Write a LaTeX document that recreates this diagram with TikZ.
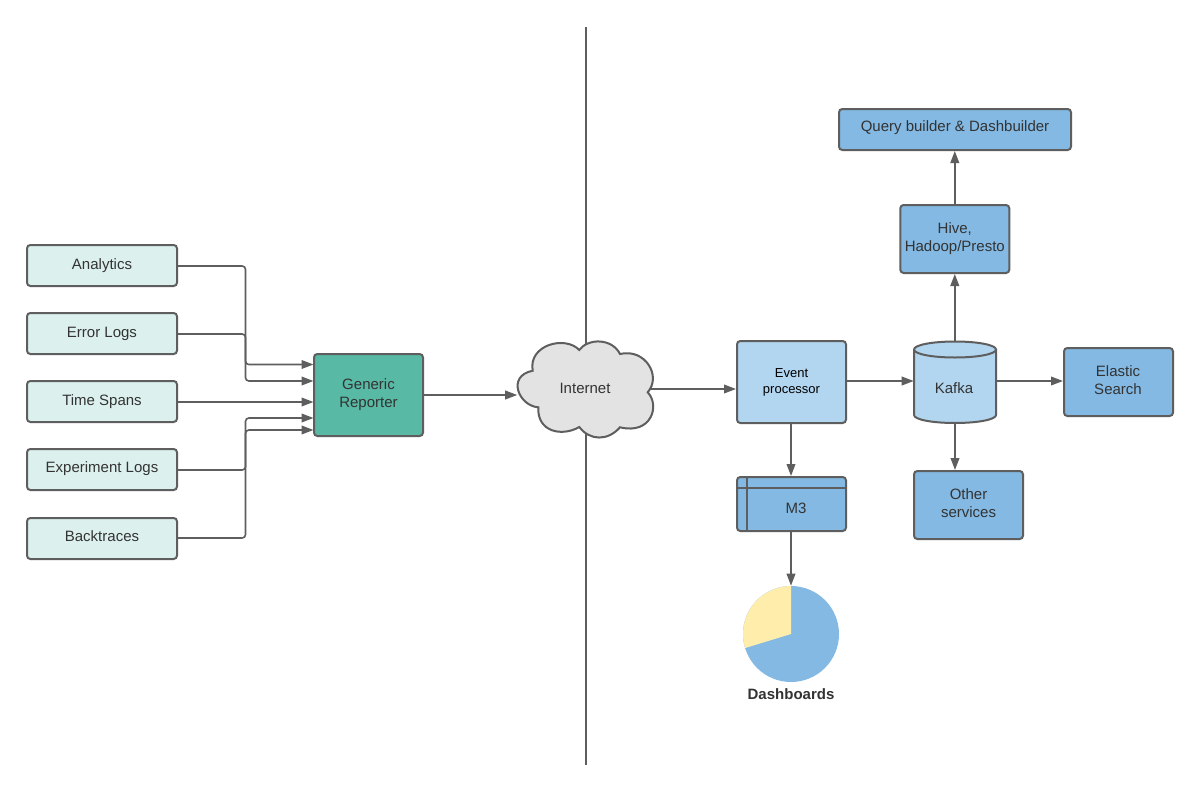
\documentclass[tikz,border=0pt]{standalone}
\usepackage{fontspec}
\setmainfont{Liberation Sans}
\usetikzlibrary{arrows.meta,calc}
\definecolor{ln}{HTML}{5E5E5E}
\definecolor{txt}{HTML}{333333}
\definecolor{mint}{HTML}{DCF1ED}
\definecolor{teal}{HTML}{58B9A5}
\definecolor{blue}{HTML}{83B9E3}
\definecolor{lblue}{HTML}{B2D5F0}
\definecolor{cloudgrey}{HTML}{E3E3E3}
\definecolor{pieyellow}{HTML}{FFEDAB}
\tikzset{
  size/.style 2 args={minimum width=#1*0.75pt,minimum height=#2*0.75pt},
  box/.style={draw=ln,line width=1.5pt,rounded corners=2.5pt,inner sep=0pt,align=center,
    text=txt,font=\fontsize{11.25}{13.5}\selectfont},
  src/.style={box,fill=mint,size={150}{41}},
  label/.style={inner sep=0pt,align=center,text=txt,font=\fontsize{11.25}{13.5}\selectfont},
  conn/.style={draw=ln,line width=1.2pt,rounded corners=2.5pt,-{Triangle[length=9pt,width=6.5pt]}},
  plain/.style={draw=ln,line width=1.2pt},
}
\begin{document}
\begin{tikzpicture}[x=0.75pt,y=-0.75pt]
\useasboundingbox[fill=white] (0,0) rectangle (1200,793);
% divider
\coordinate (divtop) at (586.1,27);
\coordinate (divbot) at (586.1,765);
\draw[plain] (divtop) -- (divbot);
% sources
\node[src] (analytics) at (102,265.5) {Analytics};
\node[src] (errors) at (102,333.5) {Error Logs};
\node[src] (spans) at (102,401.5) {Time Spans};
\node[src] (experiment) at (102,469.5) {};
\node[label] (experimentlabel) at (102,468.5) {Experiment Logs};
\node[src] (backtraces) at (102,538.5) {};
\node[label] (backtraceslabel) at (102,536.5) {Backtraces};
\node[box,fill=teal,size={109}{82}] (reporter) at (368.5,395) {Generic\\Reporter};
% cloud
\draw[draw=ln,line width=1.5pt,fill=cloudgrey]
  (538.3,407.3) .. controls (519,406) and (506,376) .. (532.7,370.7)
  .. controls (528,345) and (565,335) .. (579.3,350)
  .. controls (588,338) and (612,338) .. (620,354)
  .. controls (645,348) and (662,376) .. (647.7,392.3)
  .. controls (660,405) and (652,435) .. (620,427.3)
  .. controls (608,441) and (590,441) .. (579.3,427)
  .. controls (562,437) and (537,432) .. (538.3,407.3) -- cycle;
\node[label,size={135}{96}] (cloud) at (585,388) {Internet};
% right side
\node[box,fill=lblue,size={109}{82},font=\fontsize{9.75}{12}\selectfont,text=black] (event) at (791.5,382) {Event\\processor};
\node[box,fill=blue,size={109}{54}] (mthree) at (791.5,504) {};
\draw[draw=ln,line width=1.5pt] (mthree.north west |- 0,488) coordinate (mh) -- (mthree.north east |- 0,488);
\draw[draw=ln,line width=1.5pt] (747,477) coordinate (mv) -- (747,531);
\node[label] (mlabel) at (796,508) {M3};
\node[box,fill=blue,size={232}{41}] (query) at (955,129.5) {};
\node[label] (querylabel) at (955,127.5) {Query builder \& Dashbuilder};
\node[box,fill=blue,size={109}{68}] (hive) at (954.8,239) {Hive,\\Hadoop/Presto};
\node[box,fill=blue,size={109}{68}] (elastic) at (1118.5,382) {};
\node[label] (elasticlabel) at (1118,380) {Elastic\\Search};
\node[box,fill=blue,size={109}{68}] (other) at (968.5,505) {};
\node[label] (otherlabel) at (968.5,503) {Other\\services};
% kafka cylinder
\draw[draw=ln,line width=1.5pt,fill=lblue]
  (914,349.5) -- (914,415) .. controls (914,419.5) and (932,423) .. (955,423)
  .. controls (978,423) and (996,419.5) .. (996,415) -- (996,349.5)
  .. controls (996,345) and (978,341.5) .. (955,341.5)
  .. controls (932,341.5) and (914,345) .. (914,349.5) -- cycle;
\draw[draw=ln,line width=1.5pt]
  (914,349.5) .. controls (914,354) and (932,357.5) .. (955,357.5)
  .. controls (978,357.5) and (996,354) .. (996,349.5);
\node[inner sep=0pt,minimum width=61.5pt,minimum height=61.5pt,label] (kafka) at (955,382) {};
\node[label] (kafkalabel) at (954,388) {Kafka};
% pie
\coordinate (piec) at (791,634);
\fill[blue] (piec) circle[radius=36pt];
\fill[pieyellow] (piec) -- (791,586) arc[start angle=90,end angle=197,radius=36pt] -- cycle;
\node[inner sep=0pt,minimum size=72pt] (pie) at (piec) {};
\node[inner sep=0pt,text=txt,font=\fontsize{11.25}{13.5}\selectfont\bfseries] (dash) at (791,694) {Dashboards};
% connectors
\coordinate (in1) at (313.5,364.5);
\coordinate (in2) at (313.5,381);
\coordinate (in3) at (313.5,402);
\coordinate (in4) at (313.5,418);
\coordinate (in5) at (313.5,430);
\draw[conn] (errors.east |- 0,334) -- (245.5,334) -- (245.5,364.5) -- (in1);
\draw[conn] (analytics.east |- 0,266) -- (245.5,266) -- (245.5,381) -- (in2);
\draw[conn,rounded corners=0pt] (spans.east |- 0,402) -- (in3);
\draw[conn] (backtraces.east |- 0,538) -- (245.5,538) -- (245.5,418) -- (in4);
\draw[conn] (experiment.east |- 0,470) -- (245.5,470) -- (245.5,430) -- (in5);
\draw[conn] (reporter.east) -- (cloud.west |- reporter.east);
\draw[conn] (649,389) coordinate (cloudout) -- (event.west |- 0,389);
\draw[conn] (event.east |- 0,381) -- (kafka.west |- 0,381);
\draw[conn] (kafka.east |- 0,381) -- (elastic.west |- 0,381);
\draw[conn] (pie.north |- event.south) -- (pie.north |- mthree.north);
\draw[conn] (pie.north |- mthree.south) -- (pie.north);
\draw[conn] (kafka.south) -- (kafka.south |- other.north);
\draw[conn] (hive.south |- kafka.north) -- (hive.south);
\draw[conn] (hive.north) -- (query.south -| hive.north);
\end{tikzpicture}
\end{document}
